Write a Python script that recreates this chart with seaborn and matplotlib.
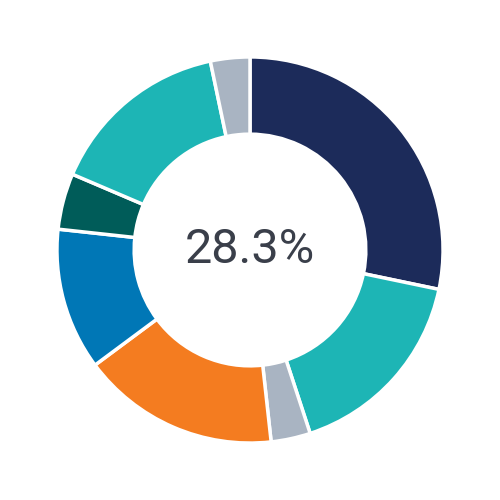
import matplotlib
matplotlib.use('Agg')
import matplotlib.pyplot as plt
import seaborn as sns

# slice shares (percent), clockwise from 12 o'clock
labels = ['A', 'B', 'C', 'D', 'E', 'F', 'G', 'H']
values = [28.3, 16.7, 3.3, 16.6, 11.9, 4.7, 15.3, 3.3]
colors = ['#1c2b5a', '#1db5b5', '#a9b4c2', '#f47c20', '#0077b6', '#005c59', '#1db5b5', '#a9b4c2']
center_label = '28.3%'

sns.set_theme(style='white')
plt.rcParams['font.family'] = ['Roboto', 'DejaVu Sans']

fig = plt.figure(figsize=(5, 5), dpi=100)
ax = fig.add_axes([0, 0, 1, 1])
ax.pie(values, colors=colors, startangle=90, counterclock=False,
       wedgeprops=dict(width=0.40, edgecolor='white', linewidth=2.5))
ax.text(0, 0, center_label, ha='center', va='center', fontsize=35, color='#3a3f4a')
ax.set_xlim(-1.295, 1.295)
ax.set_ylim(-1.295, 1.295)
ax.set_aspect('equal')
ax.axis('off')
fig.savefig('out.png', dpi=100, facecolor='white')
